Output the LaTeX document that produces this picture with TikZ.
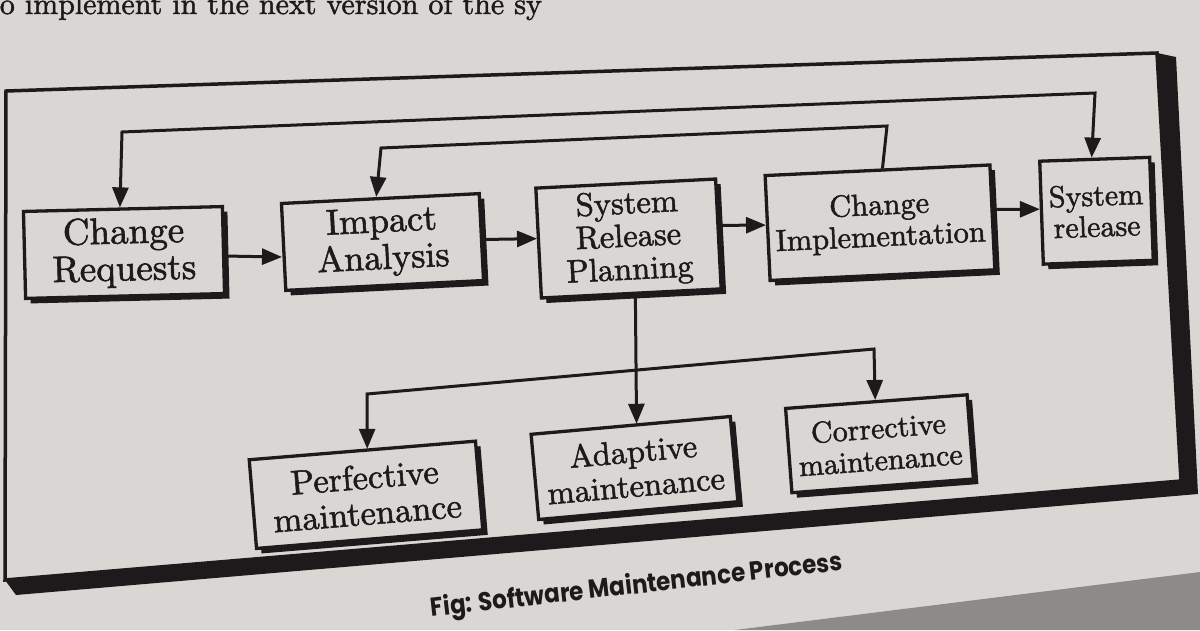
\documentclass[tikz,border=0pt]{standalone}
\usepackage{fontspec}
\setmainfont{lmroman10-regular.otf}
\newfontfamily\bx{lmroman10-regular.otf}[FakeBold=1.6]
\newfontfamily\capfont{Poppins}
\usetikzlibrary{arrows.meta,shadows,calc}
\definecolor{paper}{HTML}{D9D7D4}
\definecolor{paperdark}{HTML}{8D8B89}
\definecolor{ink}{HTML}{1C1A1A}
\tikzset{
  box/.style={draw=ink, line width=3.3pt, fill=paper, align=center, inner sep=0pt, text=ink,
    drop shadow={shadow xshift=5pt, shadow yshift=-5pt, fill=ink, opacity=1}},
  conn/.style={draw=ink, line width=3pt},
  arr/.style={conn, -{Triangle[length=20pt,width=16pt]}},
  arrboth/.style={conn, {Triangle[length=20pt,width=16pt]}-{Triangle[length=20pt,width=16pt]}},
}
\begin{document}
\begin{tikzpicture}[x=1pt,y=-1pt]
\useasboundingbox (0,0) rectangle (1200,630);
\clip (0,0) rectangle (1200,630);
\fill[paper] (0,0) rectangle (1200,630);
\fill[paperdark] (735,630) -- (1200,572) -- (1200,630) -- cycle;
\node[anchor=base west, inner sep=0pt, text=ink, font=\bx\fontsize{30}{30}\selectfont] (toptext) at (-12,14) {to implement in the next version of the sy};

% outer frame
\coordinate (fTL) at (6,91);
\coordinate (fTR) at (1157,53);
\coordinate (fBR) at (1181,481);
\coordinate (fBL) at (5,580);
\fill[ink] (fTR) -- (1176,57) -- (1198,494) -- (16,595) -- (fBL) -- (fBR) -- cycle;
\draw[ink, line width=3.5pt] (fTL) -- (fTR) -- (fBR) -- (fBL) -- cycle;

% boxes
\node[box, rotate=1.4, minimum width=199pt, minimum height=87pt, font=\bx\fontsize{37}{37}\selectfont] (cr) at (124,252.5) {Change\\Requests};
\node[box, rotate=2.85, minimum width=198pt, minimum height=87pt, font=\bx\fontsize{36}{37}\selectfont] (ia) at (382.5,242) {Impact\\Analysis};
\node[box, rotate=2.9, minimum width=180pt, minimum height=110pt, font=\bx\fontsize{32.5}{33}\selectfont] (srp) at (628.5,238.5) {System\\Release\\Planning};
\node[box, rotate=2.7, minimum width=225pt, minimum height=105pt, font=\bx\fontsize{30.5}{31.5}\selectfont] (ci) at (880,222.7) {Change\\Implementation};
\node[box, rotate=2, minimum width=110pt, minimum height=103pt, font=\bx\fontsize{30}{31}\selectfont] (sr) at (1096.5,210.75) {System\\release};
\node[box, rotate=4.7, minimum width=227pt, minimum height=89pt, font=\bx\fontsize{34.5}{36}\selectfont] (pm) at (366,494.8) {Perfective\\maintenance};
\node[box, rotate=5.1, minimum width=200pt, minimum height=85.5pt, font=\bx\fontsize{32.5}{34.5}\selectfont] (am) at (634.5,468) {Adaptive\\maintenance};
\node[box, rotate=4.3, minimum width=182pt, minimum height=84.5pt, font=\bx\fontsize{30}{32}\selectfont] (com) at (879.5,443.75) {Corrective\\maintenance};

% main flow
\draw[arr] ($(cr.east)+(0,6)$) -- ($(ia.west)+(0,10)$);
\draw[arr] ($(ia.east)+(0,2.5)$) -- ($(srp.west)+(0,-4.5)$);
\draw[arr] ($(srp.east)+(0,-8.5)$) -- ($(ci.west)+(0,-3)$);
\draw[arr] ($(ci.east)+(0,-8)$) -- ($(sr.west)+(0,-3.5)$);

% feedback loops
\coordinate (fbA) at (887,126);
\coordinate (fbB) at (381,148);
\draw[arr] ($(ci.north)+(5,0)$) -- (fbA) -- (fbB) -- ($(ia.north)+(-4,0)$);
\coordinate (fbC) at (122,132);
\coordinate (fbD) at (1095,93);
\draw[arrboth] ($(cr.north)+(-3,0)$) -- (fbC) -- (fbD) -- ($(sr.north)+(-3,0)$);

% maintenance types
\draw[arr] ($(srp.south)+(4,0)$) -- ($(am.north)+(6,0)$);
\coordinate (bl) at (367,394);
\coordinate (br) at (874,349);
\coordinate (junc) at ($(bl)!0.53!(br)$);
\draw[arr] (junc) -- (bl) -- ($(pm.north)+(5,0)$);
\draw[arr] (junc) -- (br) -- ($(com.north)+(-1,0)$);

% caption
\node[rotate=6.5, anchor=base, inner sep=0pt, text=ink, font=\capfont\bfseries\fontsize{26}{26}\selectfont] (cap) at (637.5,593.5) {\scalebox{0.885}[1]{Fig: Software Maintenance Process}};
\end{tikzpicture}
\end{document}
